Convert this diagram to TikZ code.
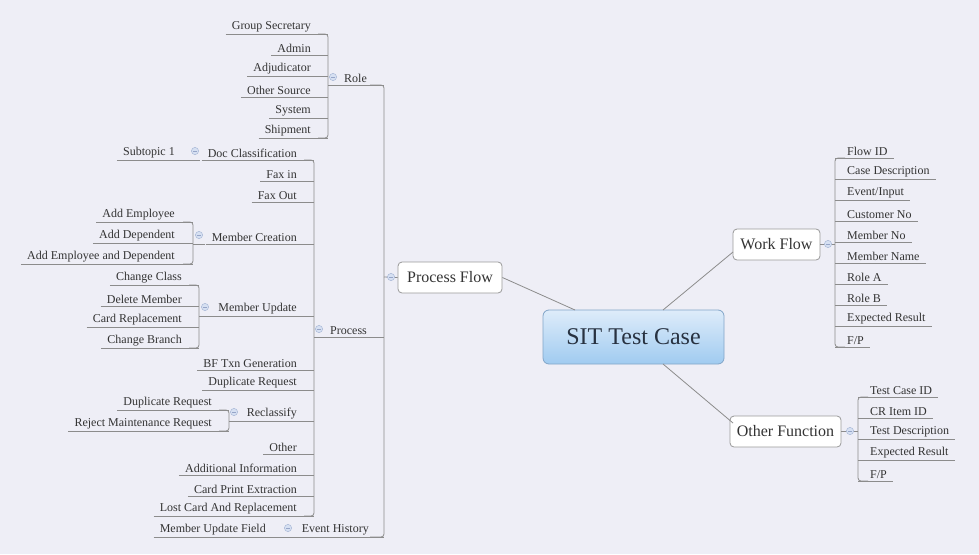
\documentclass[tikz,border=0pt]{standalone}
\usepackage{fontspec}
\setmainfont{Liberation Serif}
\begin{document}
\begin{tikzpicture}[x=1pt,y=-1pt,
  ln/.style={draw=black!45,line width=0.8pt},
  leaf/.style={inner sep=2pt,font=\fontsize{12}{14}\selectfont,text=black!80},
  box/.style={draw=black!40,rounded corners=4pt,fill=white,line width=0.8pt,font=\fontsize{16}{18}\selectfont,text=black!80,minimum height=31pt,inner xsep=6pt},
  mark/.style={}]
\useasboundingbox[fill={rgb,255:red,238;green,238;blue,246}] (0,0) rectangle (979,554);
\newcommand\LL[5]{\node[leaf,anchor=south east] (#1) at (#2,#3) {#4};\draw[ln] ([xshift=-4pt]#1.south west) -- (#5,#3);}
\newcommand\RL[5]{\node[leaf,anchor=south west] (#1) at (#2,#3) {#4};\draw[ln] (#5,#3) -- ([xshift=4pt]#1.south east);}
\newcommand\BR[4]{\draw[ln,rounded corners=3pt] (#1-10,#2) -- (#1,#2) -- (#1,#3) -- (#1#4,#3);}
\newcommand\BRR[3]{\draw[ln,rounded corners=3pt] (#1+10,#2) -- (#1,#2) -- (#1,#3) -- (#1+10,#3);}
\newcommand\MK[2]{\draw[draw={rgb,255:red,170;green,185;blue,215},fill={rgb,255:red,214;green,224;blue,242},line width=0.5pt] (#1,#2) circle (3.6pt); \draw[draw={rgb,255:red,150;green,165;blue,200},line width=0.5pt] (#1-2,#2) -- (#1+2,#2);}
% central
\node[draw={rgb,255:red,130;green,165;blue,200},rounded corners=6pt,top color={rgb,255:red,222;green,236;blue,250},bottom color={rgb,255:red,160;green,203;blue,240},minimum width=181pt,minimum height=54pt,font=\fontsize{24}{28}\selectfont,text={rgb,255:red,40;green,50;blue,65},line width=0.8pt] (root) at (633.5,337) {SIT Test Case};
\node[box,minimum width=104pt] (pf) at (450,277.5) {Process Flow};
\node[box,minimum width=87pt] (wf) at (776.5,244.5) {Work Flow};
\node[box,minimum width=111pt] (of) at (785.5,431.5) {Other Function};
\draw[ln] (pf.east) -- (575,310);
\draw[ln] (663,310) -- (733,252);
\draw[ln] (663,364) -- (733,423);
% Process Flow bracket
\draw[ln,rounded corners=3pt] (370,85) -- (384,85) -- (384,537) -- (370,537);
\draw[ln] (384,277) -- (pf.west);
\MK{391}{277}
% Role
\node[leaf,anchor=south west] (role) at (342,85) {Role};
\draw[ln] (328,85) -- (384,85);
\MK{333}{77}
\LL{r1}{313}{34}{Group Secretary}{328}
\LL{r2}{313}{55}{Admin}{328}
\LL{r3}{313}{76}{Adjudicator}{328}
\LL{r4}{313}{97}{Other Source}{328}
\LL{r5}{313}{118}{System}{328}
\LL{r6}{313}{138}{Shipment}{328}
\BR{328}{34}{138}{-10}
% Process
\node[leaf,anchor=south west] (proc) at (328,337) {Process};
\draw[ln] (314,337) -- (384,337);
\MK{319}{329}
\LL{p1}{299}{160}{Doc Classification}{314}
\LL{p2}{299}{181}{Fax in}{314}
\LL{p3}{299}{202}{Fax Out}{314}
\LL{p4}{299}{244}{Member Creation}{314}
\LL{p5}{299}{316}{Member Update}{314}
\LL{p6}{299}{370}{BF Txn Generation}{314}
\LL{p7}{299}{390}{Duplicate Request}{314}
\LL{p8}{299}{421}{Reclassify}{314}
\LL{p9}{299}{454}{Other}{314}
\LL{p10}{299}{475}{Additional Information}{314}
\LL{p11}{299}{496}{Card Print Extraction}{314}
\LL{p12}{299}{516}{Lost Card And Replacement}{314}
\BR{314}{160}{516}{-10}
% Doc classification child
\LL{dc1}{177}{160}{Subtopic 1}{200}
\MK{195}{151}
% Member creation
\MK{199}{235}
\LL{mc1}{177}{222}{Add Employee}{193}
\LL{mc2}{177}{243}{Add Dependent}{193}
\LL{mc3}{177}{264}{Add Employee and Dependent}{193}
\BR{193}{222}{264}{-10}
\draw[ln] (193,244) -- (205,244);
% Member update
\MK{205}{307}
\LL{mu1}{184}{285}{Change Class}{199}
\LL{mu2}{184}{306}{Delete Member}{199}
\LL{mu3}{184}{327}{Card Replacement}{199}
\LL{mu4}{184}{348}{Change Branch}{199}
\BR{199}{285}{348}{-10}
\draw[ln] (199,316) -- (214,316);
% Reclassify
\MK{234}{412}
\LL{rc1}{214}{410}{Duplicate Request}{229}
\LL{rc2}{214}{431}{Reject Maintenance Request}{229}
\BR{229}{410}{431}{-10}
\draw[ln] (229,421) -- (243,421);
% Event history
\LL{eh}{371}{537}{Event History}{384}
\MK{288}{528}
\LL{eh1}{268}{537}{Member Update Field}{296}
% Work flow
\draw[ln] (wf.east) -- (835,244.5);
\MK{828}{244}
\RL{w1}{845}{158}{Flow ID}{835}
\RL{w2}{845}{179}{Case Description}{835}
\RL{w3}{845}{200}{Event/Input}{835}
\RL{w4}{845}{221}{Customer No}{835}
\RL{w5}{845}{242}{Member No}{835}
\RL{w6}{845}{263}{Member Name}{835}
\RL{w7}{845}{284}{Role A}{835}
\RL{w8}{845}{305}{Role B}{835}
\RL{w9}{845}{326}{Expected Result}{835}
\RL{w10}{845}{347}{F/P}{835}
\BRR{835}{158}{347}
% Other function
\draw[ln] (of.east) -- (858,431.5);
\MK{850}{431}
\RL{o1}{868}{397}{Test Case ID}{858}
\RL{o2}{868}{418}{CR Item ID}{858}
\RL{o3}{868}{439}{Test Description}{858}
\RL{o4}{868}{460}{Expected Result}{858}
\RL{o5}{868}{481}{F/P}{858}
\BRR{858}{397}{481}
\end{tikzpicture}
\end{document}
